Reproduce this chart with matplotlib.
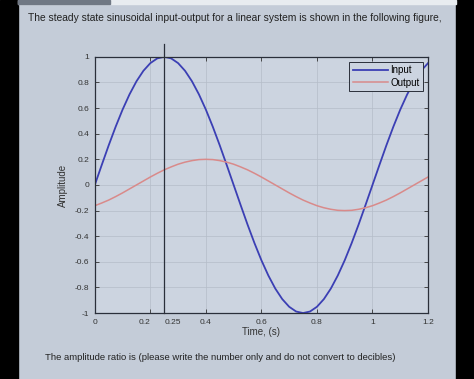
import matplotlib
matplotlib.use("Agg")
import matplotlib.pyplot as plt
from matplotlib.patches import Rectangle

# ---- data ----
time_s = [0.000, 0.025, 0.050, 0.075, 0.100, 0.125, 0.150, 0.175, 0.200, 0.225,
          0.250, 0.275, 0.300, 0.325, 0.350, 0.375, 0.400, 0.425, 0.450, 0.475,
          0.500, 0.525, 0.550, 0.575, 0.600, 0.625, 0.650, 0.675, 0.700, 0.725,
          0.750, 0.775, 0.800, 0.825, 0.850, 0.875, 0.900, 0.925, 0.950, 0.975,
          1.000, 1.025, 1.050, 1.075, 1.100, 1.125, 1.150, 1.175, 1.200]
input_amp = [0.000, 0.156, 0.309, 0.454, 0.588, 0.707, 0.809, 0.891, 0.951, 0.988,
             1.000, 0.988, 0.951, 0.891, 0.809, 0.707, 0.588, 0.454, 0.309, 0.156,
             0.000, -0.156, -0.309, -0.454, -0.588, -0.707, -0.809, -0.891, -0.951, -0.988,
             -1.000, -0.988, -0.951, -0.891, -0.809, -0.707, -0.588, -0.454, -0.309, -0.156,
             0.000, 0.156, 0.309, 0.454, 0.588, 0.707, 0.809, 0.891, 0.951]
output_amp = [-0.162, -0.141, -0.118, -0.091, -0.062, -0.031, 0.000, 0.031, 0.062, 0.091,
              0.118, 0.141, 0.162, 0.178, 0.190, 0.198, 0.200, 0.198, 0.190, 0.178,
              0.162, 0.141, 0.118, 0.091, 0.062, 0.031, 0.000, -0.031, -0.062, -0.091,
              -0.118, -0.141, -0.162, -0.178, -0.190, -0.198, -0.200, -0.198, -0.190, -0.178,
              -0.162, -0.141, -0.118, -0.091, -0.062, -0.031, 0.000, 0.031, 0.062]
marker_time = 0.25
x_ticks = [0, 0.2, 0.25, 0.4, 0.6, 0.8, 1, 1.2]
x_ticklabels = ["0", "0.2", "0.25", "0.4", "0.6", "0.8", "1", "1.2"]
y_ticks = [-1, -0.8, -0.6, -0.4, -0.2, 0, 0.2, 0.4, 0.6, 0.8, 1]
y_ticklabels = ["-1", "-0.8", "-0.6", "-0.4", "-0.2", "0", "0.2", "0.4", "0.6", "0.8", "1"]
series_names = ["Input", "Output"]
title_text = "The steady state sinusoidal input-output for a linear system is shown in the following figure,"
footer_text = "The amplitude ratio is (please write the number only and do not convert to decibles)"

plt.rcParams['font.family'] = ['Liberation Sans', 'DejaVu Sans']

bg = '#c4ccd8'
fig = plt.figure(figsize=(4.74, 3.79), dpi=100, facecolor=bg)

# photo frame edges
fig.patches.append(Rectangle((0, 0), 18/474, 1, transform=fig.transFigure, color='black', zorder=0))
fig.patches.append(Rectangle((456/474, 0), 18/474, 1, transform=fig.transFigure, color='black', zorder=0))
fig.patches.append(Rectangle((18/474, 1 - 4/379), 438/474, 4/379, transform=fig.transFigure, color='#e8ecf0', zorder=0))
fig.patches.append(Rectangle((18/474, 1 - 4/379), 92/474, 4/379, transform=fig.transFigure, color='#707884', zorder=0))

ax = fig.add_axes([0.200, 0.174, 0.703, 0.676])
ax.set_facecolor('#ccd4e0')

ax.plot(time_s, input_amp, color='#3b3fb4', lw=1.3, label=series_names[0])
ax.plot(time_s, output_amp, color='#d98a8a', lw=1.1, label=series_names[1])
ax.axvline(marker_time, ymin=0, ymax=1.05, color='#2a2f3a', lw=0.9, clip_on=False)

ax.set_xlim(0, 1.2)
ax.set_ylim(-1, 1)
ax.set_xticks(x_ticks)
ax.set_xticklabels(x_ticklabels, fontsize=6.0, color='#333')
ax.set_yticks(y_ticks)
ax.set_yticklabels(y_ticklabels, fontsize=6.0, color='#333')
ax.tick_params(direction='in', length=3, width=0.6, top=True, right=True, pad=4, colors='#333')
xl = ax.get_xticklabels()
xl[1].set_ha('right')
xl[2].set_ha('left')
ax.grid(True, color='#b4bcc8', lw=0.5)
for s in ax.spines.values():
    s.set_color('#2a2f3a')
    s.set_linewidth(0.9)

ax.set_xlabel("Time, (s)", fontsize=7, color='#333', labelpad=1)
ax.set_ylabel("Amplitude", fontsize=7, color='#333', labelpad=5)

leg = ax.legend(loc='upper right', fontsize=7, frameon=True, fancybox=False,
                handlelength=3.6, handletextpad=0.3, borderpad=0.35, labelspacing=0.25,
                borderaxespad=0.5)
leg.get_frame().set_edgecolor('#2a2f3a')
leg.get_frame().set_facecolor('#ccd4e0')
leg.get_frame().set_linewidth(0.7)
leg.get_frame().set_alpha(1)

fig.text(0.495, 0.952, title_text, ha='center', va='center', fontsize=7.4, color='#222')
fig.text(0.465, 0.058, footer_text, ha='center', va='center', fontsize=6.8, color='#222')

fig.savefig('out.png', dpi=100, facecolor=bg)
